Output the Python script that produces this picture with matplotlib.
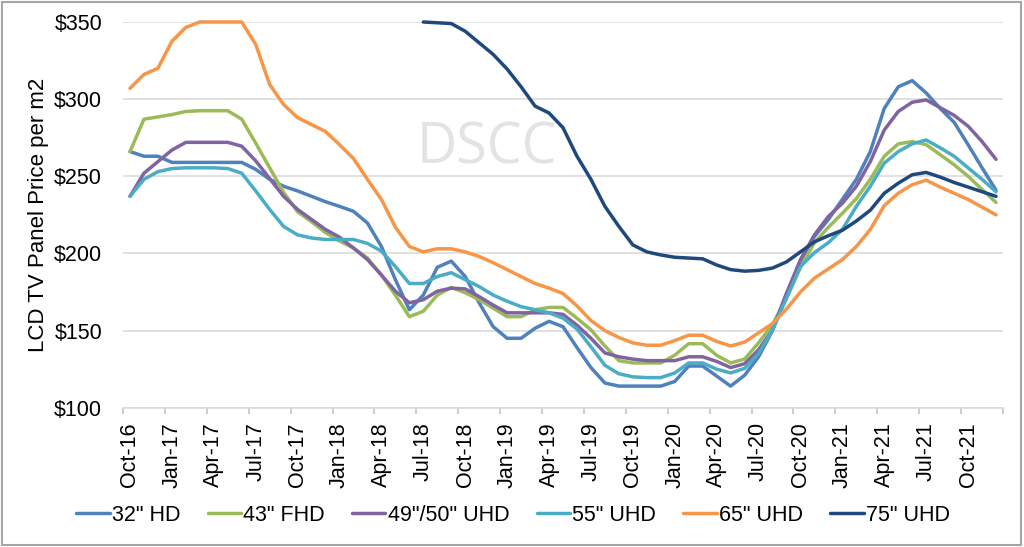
import numpy as np
import matplotlib
matplotlib.use("Agg")
import matplotlib.pyplot as plt
from matplotlib.patches import Rectangle

# ---- data (monthly, Oct-16 .. Dec-21) ----
tick_labels = ["Oct-16", "Jan-17", "Apr-17", "Jul-17", "Oct-17", "Jan-18", "Apr-18",
               "Jul-18", "Oct-18", "Jan-19", "Apr-19", "Jul-19", "Oct-19", "Jan-20",
               "Apr-20", "Jul-20", "Oct-20", "Jan-21", "Apr-21", "Jul-21", "Oct-21"]
n_months = 63

series_names = ['32" HD', '43" FHD', '49"/50" UHD', '55" UHD', '65" UHD', '75" UHD']
series_colors = ["#4F81BD", "#9BBB59", "#8064A2", "#4BACC6", "#F79646", "#1F497D"]

hd32 = [266, 263, 263, 259, 259, 259, 259, 259, 259, 254.5, 248, 243.5, 240.5, 237, 233.5,
        230.5, 227.3, 219.7, 204.5, 183, 163.5, 173, 191, 195, 185, 168, 152.5, 145, 145,
        151.5, 156, 152.5, 139, 126, 116, 114, 114, 114, 114, 117, 127, 127, 120.5, 114,
        121, 133, 150, 174, 195, 211, 222, 235, 248, 266, 294, 308, 312, 304, 294, 285,
        270.5, 255.5, 241]
fhd43 = [266, 287, 288.5, 290, 292, 292.5, 292.5, 292.5, 287, 271.5, 255.5, 239.5, 227,
         220.5, 213.5, 208, 203.5, 197, 186, 173, 159, 162.5, 173, 178, 174.5, 170, 164.5,
         159, 159, 163.5, 165, 165, 158, 150.5, 140, 130.5, 129, 129, 129, 134, 141.5,
         141.5, 134, 129, 131.5, 142, 154, 171, 191, 207, 217, 226, 235.5, 248, 263, 271,
         272.5, 270.5, 264, 257.5, 250, 241.5, 233]
uhd50 = [237, 252, 259.5, 267, 272, 272, 272, 272, 269.5, 260, 248.5, 237, 228.5, 222,
         215.5, 210.5, 203.5, 196, 186, 175.5, 168, 170, 175.5, 177.5, 177, 172, 166.5,
         161.5, 161.5, 161.5, 161.5, 160.5, 153.5, 145, 135.5, 133, 131.5, 130.5, 130.5,
         130.5, 133, 133, 130, 126, 128.5, 137.5, 150.5, 174, 196, 212, 224, 232.5, 243.5,
         259.5, 280, 292, 298, 299.5, 294.5, 289.5, 282.5, 272.5, 261]
uhd55 = [237, 248, 253, 255, 255.5, 255.5, 255.5, 255, 252, 240.5, 228.5, 217.5, 212, 210,
         209, 209, 209, 206.5, 201.5, 191.5, 180.5, 180.5, 185, 187.5, 183, 178.5, 173, 169,
         165.5, 163.5, 161.5, 158, 151, 139.5, 127.5, 122, 120, 119.5, 119.5, 122.5, 129,
         129, 125, 122.5, 125.5, 135, 150.5, 171, 191.5, 200.5, 207, 215.5, 230.5, 243.5,
         258.5, 266, 271, 273.5, 268.5, 263, 255.5, 248, 240]
uhd65 = [307, 316, 320, 337.5, 346.5, 350, 350, 350, 350, 335.5, 309.5, 296.5, 288, 283.5,
         279, 270.5, 261.5, 248, 235, 217, 204.5, 201, 203, 203, 201, 198, 194, 189.5, 185,
         180.5, 177.5, 174, 166, 156.5, 150, 145.5, 142, 140.5, 140.5, 143.5, 147, 147, 143,
         140, 142.5, 148.5, 154.5, 164, 175, 184, 190, 196, 204.5, 215.5, 231, 239, 244.5,
         247.5, 243, 239, 235, 230, 225]
uhd75 = [np.nan] * 21 + [350, 349.5, 349, 344, 336.5, 329, 319.5, 308, 295.5, 291, 281.5,
         263, 248, 230.5, 217.5, 205.5, 201, 199, 197.5, 197, 196.5, 192.5, 189.5, 188.5,
         189, 190.5, 194.5, 201, 207.5, 211.5, 215, 221, 228, 239, 245.5, 251, 252.5, 249.5,
         246, 243, 240, 237]

y_ticks = [100, 150, 200, 250, 300, 350]

# ---- figure ----
W, H = 1024, 547
fig = plt.figure(figsize=(W / 100, H / 100), dpi=100)
fig.patch.set_facecolor("white")
plt.rcParams["font.family"] = ["Liberation Sans", "DejaVu Sans"]

ax = fig.add_axes([123 / W, 1 - 407.7 / H, (1003 - 123) / W, (407.7 - 22) / H])
ax.set_xlim(0, n_months)
ax.set_ylim(100, 350)

x = np.arange(n_months) + 0.5
all_series = [hd32, fhd43, uhd50, uhd55, uhd65, uhd75]
handles = []
for vals, name, col in zip(all_series, series_names, series_colors):
    ln, = ax.plot(x, np.array(vals, dtype=float), color=col, lw=2.5, label=name,
                  clip_on=False, solid_joinstyle="round", solid_capstyle="round", zorder=3)
    handles.append(ln)

# y axis
ax.set_yticks(y_ticks)
ax.set_yticklabels([f"${v}" for v in y_ticks], fontsize=15.5, color="#000000")
ax.tick_params(axis="y", length=0, pad=15)
ax.yaxis.grid(True, color="#d9d9d9", lw=1.1)
ax.set_axisbelow(True)

# x axis: tick marks at quarter boundaries, labels centred on the month
ax.set_xticks(np.arange(0, n_months + 1, 3))
ax.set_xticklabels([])
ax.tick_params(axis="x", which="major", length=4.2, width=1.1, color="#bfbfbf", direction="out")
ax.set_xticks(np.arange(0, 61, 3) + 0.5, minor=True)
ax.set_xticklabels(tick_labels, minor=True, rotation=90, fontsize=15.5, color="#000000")
ax.tick_params(axis="x", which="minor", length=0, pad=10.5)

for s in ["top", "left", "right"]:
    ax.spines[s].set_visible(False)
ax.spines["bottom"].set_color("#d9d9d9")
ax.spines["bottom"].set_linewidth(1.1)

ax.set_ylabel("LCD TV Panel Price per m2", fontsize=16, color="#000000")
ax.yaxis.set_label_coords((49 - 123) / 880, 0.5)

# watermark
fig.text(487 / W, 1 - 149 / H, "DSCC", fontsize=40, color="#e2e3e4",
         family=["Open Sans", "DejaVu Sans"], ha="center", va="center", zorder=0)

# legend
fig.legend(handles, series_names, loc="center", bbox_to_anchor=(513 / W, 1 - 515.5 / H),
           ncol=6, frameon=False, fontsize=15.5, handlelength=1.55, handletextpad=0.1,
           columnspacing=1.27)

# outer border
fig.patches.append(Rectangle((2 / W, 2 / H), 1019 / W, 543 / H, transform=fig.transFigure,
                             fill=False, edgecolor="#a6a6a6", lw=1.5))

fig.savefig("out.png", dpi=100)
